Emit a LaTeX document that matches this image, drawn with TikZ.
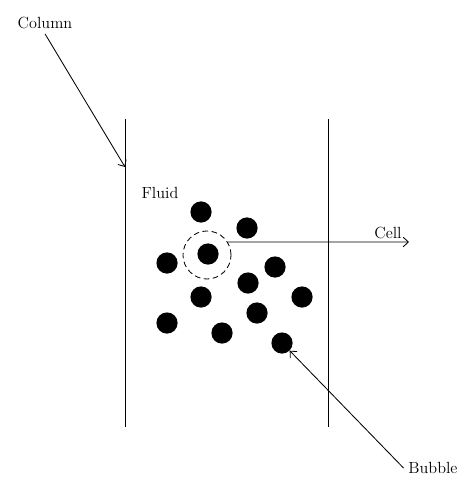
\documentclass[tikz,border=0pt]{standalone}
\usetikzlibrary{positioning,arrows.meta}
\begin{document}
\begin{tikzpicture}[x=0.025cm, y=-0.025cm,
  font=\fontsize{11.5}{13}\selectfont,
  >={Straight Barb[length=1.3mm, width=2.4mm]},
  bubble/.style={circle, fill=black, inner sep=0pt, minimum size=0.53cm},
  ring/.style={circle, draw, dash pattern=on 4pt off 2.5pt, line width=0.6pt, inner sep=0pt, minimum size=1.2cm},
  wall/.style={line width=0.7pt},
  pointer/.style={->, line width=0.6pt}]

\useasboundingbox (0,0) rectangle (474,491);

\def\xl{125}; % left wall
\def\xr{328}; % right wall
\def\yt{119}; % wall top
\def\yb{427}; % wall bottom

\draw[wall] (\xl, \yt) -- (\xl, \yb);
\draw[wall] (\xr, \yt) -- (\xr, \yb);

% bubbles
\node[bubble] (b1) at (201,212) {};
\node[bubble] (b2) at (247,228) {};
\node[bubble] (b3) at (208,254) {};
\node[bubble] (b4) at (167,263) {};
\node[bubble] (b5) at (275,267) {};
\node[bubble] (b6) at (248,283) {};
\node[bubble] (b7) at (201,297) {};
\node[bubble] (b8) at (302,297) {};
\node[bubble] (b9) at (257,313) {};
\node[bubble] (b10) at (167,323) {};
\node[bubble] (b11) at (222,333) {};
\node[bubble] (b12) at (282,343) {};

\node[ring] (cellring) at (207,255) {};

% labels
\node (column) at (45,23) {Column};
\node (fluid) at (160,193) {Fluid};
\node (cell) at (388,233) {Cell};
\node (bubble) at (433,468) {Bubble};

\coordinate (colpt) at (\xl, 167);
\coordinate (cellend) at (409, 242);

\draw[pointer] (column.south) -- (colpt);
\draw[pointer] (cellring.32) -- (cellend);
\draw[pointer] (bubble.west) -- (b12.south east);

\end{tikzpicture}
\end{document}
